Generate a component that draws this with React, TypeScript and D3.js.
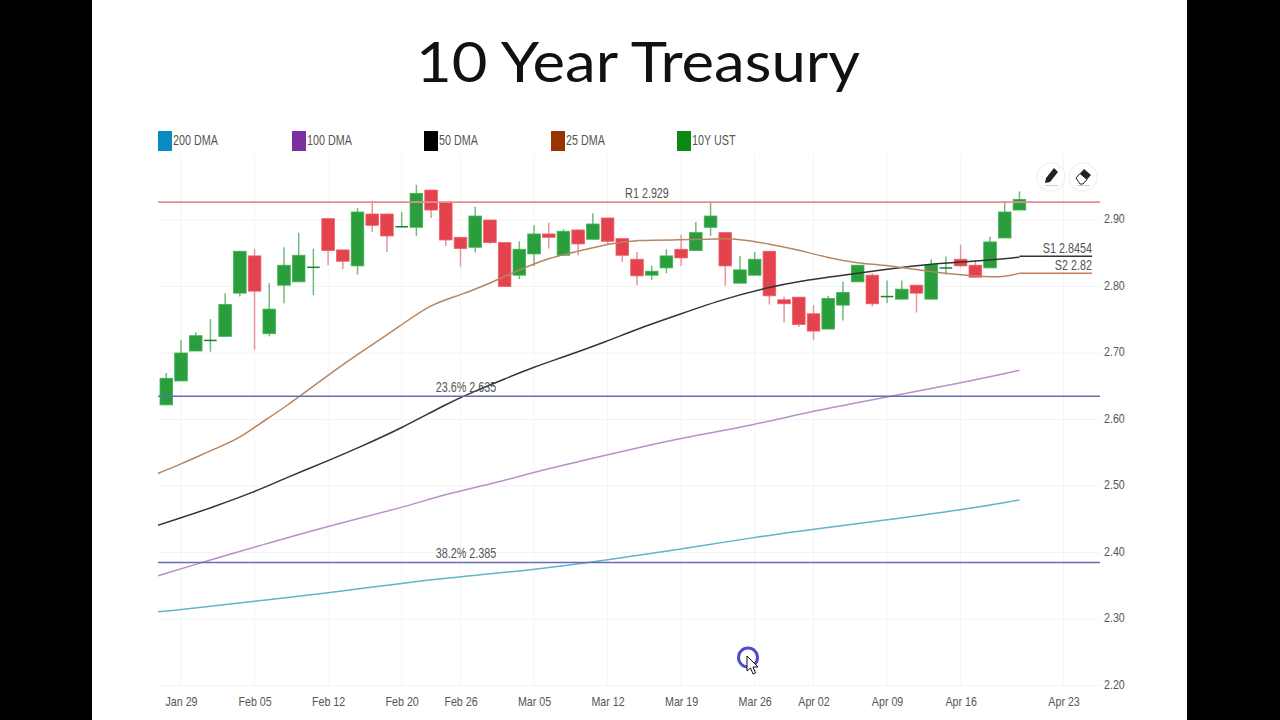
import { useRef, useEffect } from 'react';
import * as d3 from 'd3';

const WIDTH = 1280;
const HEIGHT = 720;
const PLOT_LEFT = 158;
const PLOT_RIGHT = 1100;
const PLOT_TOP = 155;
const PLOT_BOTTOM = 685.5;
const CHART_FONT = '"Liberation Sans", sans-serif';

// every slot on the x axis, first one sits just left of the plot and gets clipped
const days = [
    'Jan 25', 'Jan 26', 'Jan 29', 'Jan 30', 'Jan 31', 'Feb 01', 'Feb 02',
    'Feb 05', 'Feb 06', 'Feb 07', 'Feb 08', 'Feb 09',
    'Feb 12', 'Feb 13', 'Feb 14', 'Feb 15', 'Feb 16',
    'Feb 20', 'Feb 21', 'Feb 22', 'Feb 23',
    'Feb 26', 'Feb 27', 'Feb 28', 'Mar 01', 'Mar 02',
    'Mar 05', 'Mar 06', 'Mar 07', 'Mar 08', 'Mar 09',
    'Mar 12', 'Mar 13', 'Mar 14', 'Mar 15', 'Mar 16',
    'Mar 19', 'Mar 20', 'Mar 21', 'Mar 22', 'Mar 23',
    'Mar 26', 'Mar 27', 'Mar 28', 'Mar 29',
    'Apr 02', 'Apr 03', 'Apr 04', 'Apr 05', 'Apr 06',
    'Apr 09', 'Apr 10', 'Apr 11', 'Apr 12', 'Apr 13',
    'Apr 16', 'Apr 17', 'Apr 18', 'Apr 19', 'Apr 20',
    'Apr 21', 'Apr 22', 'Apr 23', 'Apr 24', 'Apr 25', 'Apr 26',
];
const candleDays = days.slice(1, 60);
const xTicks = ['Jan 29', 'Feb 05', 'Feb 12', 'Feb 20', 'Feb 26', 'Mar 05', 'Mar 12', 'Mar 19', 'Mar 26', 'Apr 02', 'Apr 09', 'Apr 16', 'Apr 23'];
const yTicks = [2.2, 2.3, 2.4, 2.5, 2.6, 2.7, 2.8, 2.9];

const opens = [
    2.622, 2.658, 2.703, 2.718, 2.725, 2.790, 2.846, 2.729, 2.802, 2.807,
    2.828, 2.902, 2.855, 2.831, 2.909, 2.909, 2.889, 2.889, 2.945, 2.927,
    2.874, 2.859, 2.900, 2.866, 2.817, 2.849, 2.879, 2.847, 2.885, 2.871,
    2.903, 2.872, 2.841, 2.817, 2.828, 2.856, 2.854, 2.889, 2.881, 2.805,
    2.817, 2.853, 2.780, 2.784, 2.759, 2.736, 2.772, 2.807, 2.817, 2.784,
    2.781, 2.802, 2.781, 2.827, 2.841, 2.832, 2.828, 2.873, 2.915,
];
const closes = [
    2.662, 2.700, 2.726, 2.720, 2.773, 2.853, 2.793, 2.766, 2.832, 2.847,
    2.830, 2.854, 2.838, 2.912, 2.892, 2.876, 2.891, 2.940, 2.915, 2.870,
    2.857, 2.906, 2.866, 2.800, 2.856, 2.879, 2.874, 2.883, 2.864, 2.894,
    2.868, 2.847, 2.816, 2.823, 2.846, 2.843, 2.881, 2.906, 2.831, 2.825,
    2.841, 2.786, 2.774, 2.743, 2.733, 2.782, 2.791, 2.832, 2.774, 2.786,
    2.796, 2.790, 2.833, 2.829, 2.831, 2.814, 2.867, 2.912, 2.931,
];
const highs = [
    2.670, 2.720, 2.731, 2.751, 2.790, 2.853, 2.857, 2.805, 2.859, 2.881,
    2.857, 2.902, 2.855, 2.918, 2.929, 2.909, 2.912, 2.953, 2.945, 2.927,
    2.874, 2.920, 2.900, 2.866, 2.868, 2.892, 2.896, 2.886, 2.886, 2.910,
    2.903, 2.872, 2.852, 2.831, 2.856, 2.878, 2.897, 2.927, 2.881, 2.846,
    2.852, 2.853, 2.785, 2.784, 2.772, 2.786, 2.807, 2.832, 2.820, 2.809,
    2.809, 2.802, 2.841, 2.845, 2.863, 2.840, 2.875, 2.928, 2.943,
];
const lows = [
    2.622, 2.658, 2.703, 2.702, 2.725, 2.785, 2.705, 2.725, 2.775, 2.807,
    2.787, 2.832, 2.826, 2.818, 2.882, 2.852, 2.889, 2.876, 2.903, 2.861,
    2.830, 2.851, 2.864, 2.800, 2.811, 2.831, 2.857, 2.846, 2.847, 2.871,
    2.864, 2.837, 2.802, 2.810, 2.820, 2.831, 2.854, 2.876, 2.801, 2.805,
    2.817, 2.773, 2.746, 2.739, 2.720, 2.736, 2.749, 2.807, 2.770, 2.775,
    2.781, 2.761, 2.781, 2.818, 2.829, 2.814, 2.828, 2.873, 2.915,
];

const ma25At = [0, 2, 4, 6, 7, 9, 12, 14, 17, 19, 21, 23, 25, 27, 29, 31, 33, 36, 38, 39, 40, 42, 44, 46, 48, 50, 53, 56, 58, 59];
const ma25 = [2.515, 2.533, 2.553, 2.572, 2.589, 2.617, 2.667, 2.698, 2.742, 2.774, 2.787, 2.805, 2.825, 2.843, 2.853, 2.864, 2.870, 2.870, 2.871, 2.872, 2.871, 2.864, 2.855, 2.843, 2.835, 2.832, 2.822, 2.815, 2.814, 2.820];
const ma50At = [0, 2, 4, 7, 9, 12, 14, 17, 20, 22, 24, 26, 28, 31, 33, 36, 39, 42, 44, 47, 50, 53, 56, 59];
const ma50 = [2.438, 2.452, 2.467, 2.491, 2.511, 2.538, 2.557, 2.587, 2.623, 2.643, 2.661, 2.679, 2.694, 2.718, 2.736, 2.759, 2.782, 2.799, 2.808, 2.817, 2.826, 2.834, 2.838, 2.844];
const ma100At = [0, 4, 7, 12, 17, 20, 24, 26, 31, 33, 36, 41, 45, 50, 55, 59];
const ma100 = [2.362, 2.389, 2.408, 2.440, 2.467, 2.488, 2.508, 2.521, 2.547, 2.557, 2.572, 2.592, 2.613, 2.634, 2.655, 2.674];
const ma200At = [0, 2, 7, 12, 17, 22, 26, 31, 36, 41, 45, 50, 55, 59];
const ma200 = [2.310, 2.314, 2.327, 2.339, 2.354, 2.366, 2.374, 2.389, 2.405, 2.423, 2.435, 2.449, 2.464, 2.479];

const legendNames = ['200 DMA', '100 DMA', '50 DMA', '25 DMA', '10Y UST'];
const legendColors = ['#0a8cc2', '#7c2f9e', '#000000', '#993300', '#0a8a14'];
const legendLefts = [158, 292, 424, 551, 677];

// R1 is labelled 2.929 but its line sits a touch lower on the picture
const R1 = 2.927;
const S1 = 2.8454;
const S2 = 2.82;
const FIB_236 = 2.635;
const FIB_382 = 2.385;

// the chart's font is a condensed one, none is installed so squeeze the glyphs
function condense(sel: d3.Selection<any, any, any, any>, factor: number) {
    sel.each(function () {
        const node = this as SVGTextElement;
        node.setAttribute('textLength', String(node.getComputedTextLength() * factor));
        node.setAttribute('lengthAdjust', 'spacingAndGlyphs');
    });
}

export default function App() {
    const svgRef = useRef<SVGSVGElement>(null);

    useEffect(() => {
        if (!svgRef.current) return;

        const svg = d3.select(svgRef.current);
        svg.selectAll('*').remove();

        const x = d3.scalePoint<string>().domain(days).range([151.6, 1107.7]);
        const y = d3.scaleLinear().domain([2.2, 2.9]).range([PLOT_BOTTOM, 220]);

        svg.append('rect').attr('width', WIDTH).attr('height', HEIGHT).attr('fill', '#000');
        svg.append('rect').attr('x', 92).attr('width', 1095).attr('height', HEIGHT).attr('fill', '#fff');

        svg.append('text')
            .attr('x', 638)
            .attr('y', 82)
            .attr('text-anchor', 'middle')
            .attr('font-family', 'Lato, sans-serif')
            .attr('font-size', '57px')
            .attr('fill', '#111')
            .attr('textLength', 444)
            .attr('lengthAdjust', 'spacingAndGlyphs')
            .text('10 Year Treasury');

        // Legend
        const legend = svg.append('g').attr('font-family', CHART_FONT).attr('font-size', '14px');
        legendNames.forEach((name, i) => {
            legend.append('rect')
                .attr('x', legendLefts[i])
                .attr('y', 131)
                .attr('width', 14)
                .attr('height', 20)
                .attr('fill', legendColors[i]);
            legend.append('text')
                .attr('x', legendLefts[i] + 15)
                .attr('y', 144.5)
                .attr('fill', '#555')
                .text(name);
        });
        condense(legend.selectAll('text'), 0.77);

        // Grid
        const grid = svg.append('g').attr('stroke', '#f4f4f4').attr('stroke-width', 1);
        xTicks.forEach((t) => {
            grid.append('line')
                .attr('x1', x(t)!).attr('x2', x(t)!)
                .attr('y1', PLOT_TOP).attr('y2', PLOT_BOTTOM);
        });
        yTicks.forEach((t) => {
            grid.append('line')
                .attr('x1', PLOT_LEFT).attr('x2', PLOT_RIGHT)
                .attr('y1', y(t)).attr('y2', y(t));
        });

        // Axes
        const xAxis = svg.append('g')
            .attr('transform', `translate(0,${PLOT_BOTTOM + 8})`)
            .call(d3.axisBottom(x).tickValues(xTicks).tickSize(0).tickPadding(3));
        const yAxis = svg.append('g')
            .attr('transform', `translate(${PLOT_RIGHT},-1.5)`)
            .call(d3.axisRight(y).tickValues(yTicks).tickFormat(d3.format('.2f')).tickSize(0).tickPadding(4));
        [xAxis, yAxis].forEach((a) => {
            a.select('.domain').remove();
            a.selectAll('text')
                .attr('font-family', CHART_FONT)
                .attr('font-size', '13.5px')
                .attr('fill', '#555');
            condense(a.selectAll('text'), 0.79);
        });

        // Candles
        const candles = svg.append('g');
        candleDays.forEach((day, i) => {
            const up = closes[i] >= opens[i];
            const cx = x(day)!;
            const top = y(Math.max(opens[i], closes[i]));
            const bottom = y(Math.min(opens[i], closes[i]));
            candles.append('line')
                .attr('x1', cx).attr('x2', cx)
                .attr('y1', y(highs[i])).attr('y2', y(lows[i]))
                .attr('stroke', up ? '#72b97f' : '#e8949b')
                .attr('stroke-width', 1.5);
            const doji = bottom - top < 3;
            candles.append('rect')
                .attr('x', cx - 6.3)
                .attr('y', top)
                .attr('width', 12.6)
                .attr('height', Math.max(bottom - top, 1.5))
                .attr('fill', doji ? '#1f7d33' : up ? '#2a9d3c' : '#e4434e')
                .attr('stroke', doji ? 'none' : up ? '#3fb453' : '#e9606a')
                .attr('stroke-width', 0.8);
        });

        // Moving averages and pivot lines go over the candles
        svg.append('clipPath').attr('id', 'plot-clip')
            .append('rect')
            .attr('x', PLOT_LEFT).attr('y', PLOT_TOP)
            .attr('width', PLOT_RIGHT - PLOT_LEFT).attr('height', PLOT_BOTTOM - PLOT_TOP);
        const lines = svg.append('g').attr('clip-path', 'url(#plot-clip)').attr('fill', 'none');

        const maLine = (at: number[], values: number[], color: string) => {
            const line = d3.line<number>()
                .x((d) => x(days[d])!)
                .y((_, i) => y(values[i]))
                .curve(d3.curveBasis);
            lines.append('path')
                .attr('d', line(at))
                .attr('stroke', color)
                .attr('stroke-width', 1.5);
        };
        maLine(ma200At, ma200, '#62b3cc');
        maLine(ma100At, ma100, '#bb8fca');
        maLine(ma50At, ma50, '#333333');
        maLine(ma25At, ma25, '#b98560');

        const level = (value: number, from: number, to: number, color: string, width = 1.4) => {
            lines.append('line')
                .attr('x1', from).attr('x2', to)
                .attr('y1', y(value)).attr('y2', y(value))
                .attr('stroke', color)
                .attr('stroke-width', width);
        };
        level(FIB_236, PLOT_LEFT, PLOT_RIGHT, '#6a6ab4');
        level(FIB_382, PLOT_LEFT, PLOT_RIGHT, '#6a6ab4');
        level(R1, PLOT_LEFT, PLOT_RIGHT, '#e38f8f', 1.8);
        level(S1, x('Apr 20')!, 1092, '#333333');
        level(S2, x('Apr 20')!, 1092, '#c97a50');

        // Level labels
        const labels = svg.append('g')
            .attr('font-family', CHART_FONT)
            .attr('font-size', '14px')
            .attr('fill', '#555');
        const label = (text: string, px: number, value: number, anchor: string, dy: number) => {
            labels.append('text')
                .attr('x', px)
                .attr('y', y(value) + dy)
                .attr('text-anchor', anchor)
                .text(text);
        };
        label('R1 2.929', 647, R1, 'middle', -4);
        label('23.6% 2.635', 466, FIB_236, 'middle', -4);
        label('38.2% 2.385', 466, FIB_382, 'middle', -4);
        label('S1 2.8454', 1092, S1, 'end', -3);
        label('S2 2.82', 1092, S2, 'end', -3);
        condense(labels.selectAll('text'), 0.77);

        // Pencil and eraser buttons
        const button = (cx: number) => {
            const g = svg.append('g').attr('transform', `translate(${cx},177)`);
            g.append('circle').attr('r', 14).attr('fill', '#fff').attr('stroke', '#f3f3f3').attr('stroke-width', 1.5);
            return g;
        };
        const pencil = button(1051);
        pencil.append('path').attr('d', 'M-6,6 L-5,1 L3,-9 L7,-5 L-1,5 Z').attr('fill', '#222');
        pencil.append('line').attr('x1', -6).attr('x2', 7).attr('y1', 8.5).attr('y2', 8.5).attr('stroke', '#ccc');
        const eraser = button(1083);
        eraser.append('path').attr('d', 'M-7,1 L1,-8 L8,-2 L0,7 Z').attr('fill', '#222');
        eraser.append('path').attr('d', 'M-7,1 L-3,-3.5 L4,2.5 L0,7 L-3,7 Z').attr('fill', '#fff').attr('stroke', '#222');
        eraser.append('line').attr('x1', -6).attr('x2', 7).attr('y1', 8.5).attr('y2', 8.5).attr('stroke', '#ccc');

        // Presenter's cursor
        svg.append('circle')
            .attr('cx', 748).attr('cy', 657.5).attr('r', 9.5)
            .attr('fill', 'none').attr('stroke', '#4d4dcc').attr('stroke-width', 3);
        svg.append('path')
            .attr('d', 'M747,656 L747,671 L750.5,668 L753,674 L755.5,673 L753,667 L758,667 Z')
            .attr('fill', '#fff')
            .attr('stroke', '#111')
            .attr('stroke-width', 1);
    }, []);

    return (
        <svg
            ref={svgRef}
            width={WIDTH}
            height={HEIGHT}
            style={{ position: 'absolute', left: 0, top: 0, display: 'block' }}
        />
    );
}
